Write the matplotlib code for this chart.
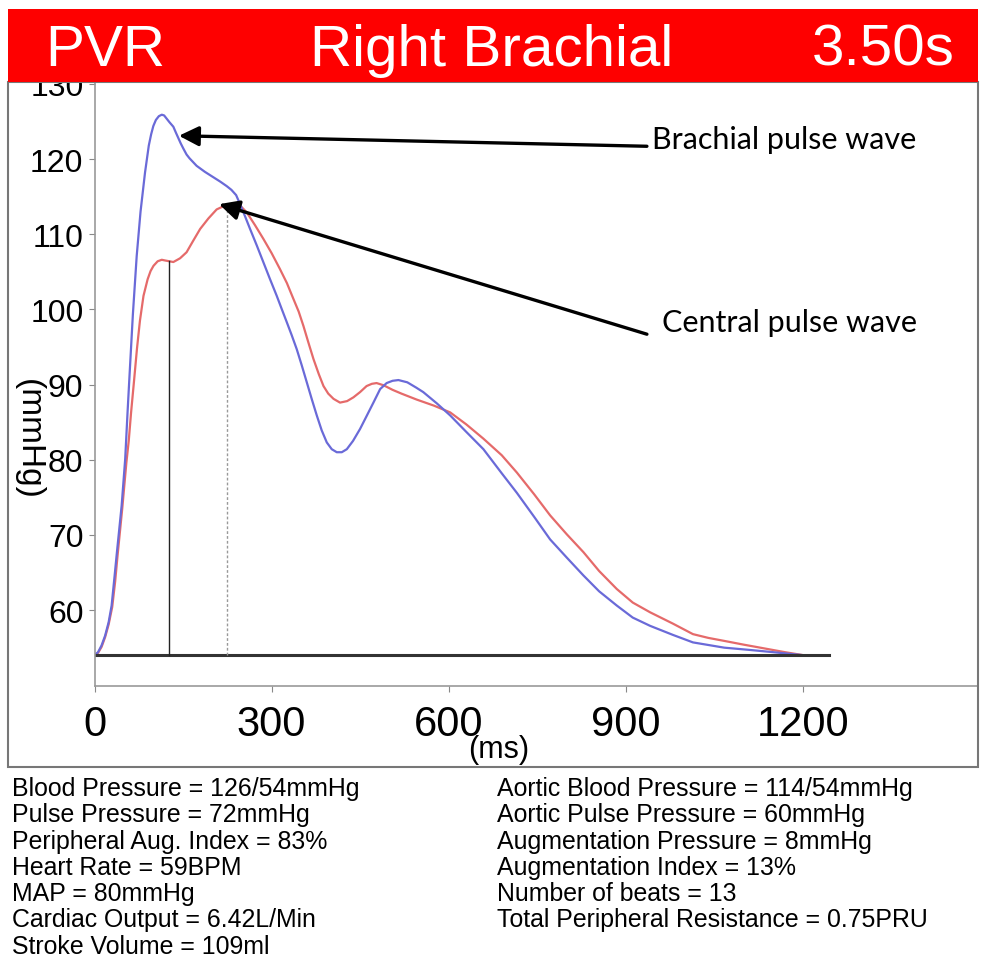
import matplotlib
matplotlib.use("Agg")
import matplotlib.pyplot as plt
from matplotlib.patches import Rectangle

# Brachial (blue) pulse wave: time (ms) / pressure (mmHg)
brachial_ms = [0, 6, 12, 18, 24, 29, 34, 38, 46, 52, 56, 59, 65, 71.5, 78, 85.6, 92, 96, 99.7,
               104, 109, 114, 118, 122, 127, 133.6, 138, 142, 146, 150.5, 156, 161, 167, 173,
               187, 201, 213, 224, 232, 240, 246.6, 255, 263.6, 275, 286, 297, 308.8, 317,
               325.8, 334, 342.7, 351, 359.7, 368, 376.6, 385, 393.6, 402, 410.5, 419, 427.5,
               438, 450, 461, 472.6, 484, 495, 505, 515, 530, 545, 557, 580, 602.6, 630, 659,
               690, 715.6, 745, 772, 800, 828.5, 855, 885, 912, 941.5, 980, 1014, 1067, 1110,
               1150, 1201]
brachial_mmhg = [54.0, 54.4, 55.3, 56.6, 58.4, 60.6, 64.5, 67.7, 73.9, 80.1, 86.3, 90.7, 99.3,
                 107.1, 113.0, 118.2, 121.8, 123.3, 124.4, 125.2, 125.7, 125.9, 125.8, 125.4,
                 124.9, 124.3, 123.5, 122.8, 122.1, 121.4, 120.6, 120.1, 119.6, 119.1, 118.3,
                 117.6, 117.0, 116.4, 115.9, 115.2, 114.0, 112.4, 110.7, 108.5, 106.3, 104.1,
                 101.8, 100.1, 98.3, 96.6, 94.7, 92.6, 90.3, 88.1, 85.9, 83.9, 82.3, 81.4, 81.0,
                 81.0, 81.4, 82.5, 84.1, 85.8, 87.6, 89.4, 90.2, 90.5, 90.6, 90.3, 89.6, 89.0,
                 87.5, 85.9, 83.7, 81.4, 78.2, 75.6, 72.4, 69.4, 67.0, 64.6, 62.5, 60.6, 59.0,
                 57.9, 56.7, 55.7, 55.0, 54.7, 54.4, 54.0]

# Central (red) pulse wave
central_ms = [0, 6, 12, 18, 24, 30, 35, 39, 47, 54, 58, 62, 67, 72, 77, 83, 90, 95, 100, 107,
              114, 120, 127, 133.6, 145, 156, 167, 179, 193, 207, 218, 230, 240, 247, 258, 272,
              286, 300, 314, 326, 337, 346, 354, 362, 371, 380, 388, 396, 405, 416, 428, 438.7,
              450, 461, 470, 478, 490, 505, 520, 546, 575, 602.6, 630, 659, 690, 715.6, 745,
              772, 800, 828.5, 855, 885, 912, 941.5, 980, 1014, 1040, 1067, 1100, 1142, 1170,
              1201]
central_mmhg = [54.0, 54.3, 55.1, 56.4, 58.1, 60.4, 63.8, 67.2, 73.5, 79.6, 82.5, 86.3, 90.5,
                94.8, 98.5, 101.8, 104.0, 105.1, 105.8, 106.4, 106.6, 106.5, 106.4, 106.3,
                106.8, 107.6, 109.1, 110.7, 112.1, 113.3, 113.7, 113.9, 113.9, 113.8, 112.9,
                111.2, 109.4, 107.5, 105.4, 103.5, 101.4, 99.7, 97.8, 95.7, 93.4, 91.4, 89.8,
                88.8, 88.1, 87.6, 87.8, 88.3, 89.0, 89.8, 90.1, 90.2, 89.9, 89.3, 88.8, 88.0,
                87.2, 86.3, 84.7, 82.8, 80.6, 78.3, 75.4, 72.6, 70.1, 67.7, 65.2, 62.8, 61.0,
                59.7, 58.2, 56.8, 56.3, 55.9, 55.4, 54.8, 54.4, 54.0]

baseline_mmhg = 54
baseline_end_ms = 1245
shoulder_ms, shoulder_mmhg = 127, 106.4   # solid marker (central shoulder)
peak_ms, peak_mmhg = 224, 113.9           # dotted marker (central peak)

x_ticks = [0, 300, 600, 900, 1200]
y_ticks = [60, 70, 80, 90, 100, 110, 120, 130]

stats_left = ["Blood Pressure = 126/54mmHg", "Pulse Pressure = 72mmHg",
              "Peripheral Aug. Index = 83%", "Heart Rate = 59BPM", "MAP = 80mmHg",
              "Cardiac Output = 6.42L/Min", "Stroke Volume = 109ml"]
stats_right = ["Aortic Blood Pressure = 114/54mmHg", "Aortic Pulse Pressure = 60mmHg",
               "Augmentation Pressure = 8mmHg", "Augmentation Index = 13%",
               "Number of beats = 13", "Total Peripheral Resistance = 0.75PRU"]

plt.rcParams['font.family'] = ['Liberation Sans', 'DejaVu Sans']

W, H = 986, 962
fig = plt.figure(figsize=(W / 100, H / 100), dpi=100)
fig.patch.set_facecolor('white')

ax = fig.add_axes([94.5 / W, 275 / H, (978 - 94.5) / W, 604 / H])
ax.plot(central_ms, central_mmhg, color='#e56a6a', lw=1.6)
ax.plot(brachial_ms, brachial_mmhg, color='#6a6ad8', lw=1.6)
ax.plot([0, baseline_end_ms], [baseline_mmhg, baseline_mmhg], color='#333333', lw=2.2)
ax.plot([shoulder_ms, shoulder_ms], [baseline_mmhg, shoulder_mmhg], color='#222222', lw=1.0)
ax.plot([peak_ms, peak_ms], [baseline_mmhg, peak_mmhg], color='#999999', lw=1.0,
        linestyle=(0, (2, 1.5)))

ax.set_xlim(0, 1497)
ax.set_ylim(49.9, 130.25)
ax.set_xticks(x_ticks)
ax.set_yticks(y_ticks)
ax.tick_params(axis='x', labelsize=30, length=4, color='#888888', pad=9)
ax.tick_params(axis='y', labelsize=23, length=4, color='#888888', pad=4)
for s in ['top', 'right']:
    ax.spines[s].set_visible(False)
for s in ['left', 'bottom']:
    ax.spines[s].set_color('#999999')
    ax.spines[s].set_linewidth(1.2)

ax.set_xlabel('(ms)', fontsize=22)
ax.xaxis.set_label_coords((499 - 94.5) / 883.5, (687 - 735) / 604)
ax.text(-0.075, 0.41, '(mmHg)', transform=ax.transAxes, rotation=270, fontsize=24,
        ha='center', va='center')

# annotation arrows
arrow = dict(arrowstyle='-|>,head_length=0.6,head_width=0.3', color='black', lw=2.4,
             mutation_scale=20, shrinkA=0, shrinkB=0)
ax.annotate('', xy=(143, 123.1), xytext=(936, 121.7), arrowprops=arrow)
ax.annotate('', xy=(211, 114.0), xytext=(936, 96.7), arrowprops=arrow)
fig.text(652 / W, 1 - 140 / H, 'Brachial pulse wave', fontsize=22, family=['Lato', 'DejaVu Sans'],
         va='center')
fig.text(662 / W, 1 - 323 / H, 'Central pulse wave', fontsize=22, family=['Lato', 'DejaVu Sans'],
         va='center')

# outer frame and red header
fig.patches.append(Rectangle((8 / W, 1 - 768 / H), 970 / W, (768 - 83) / H, transform=fig.transFigure,
                             fill=False, edgecolor='#777777', lw=1.5, zorder=4))
fig.patches.append(Rectangle((8 / W, 1 - 83 / H), 970 / W, 73 / H, transform=fig.transFigure,
                             facecolor='#fe0000', edgecolor='none', zorder=5))
hy = 1 - 51 / H
fig.text(45 / W, hy, 'PVR', color='white', fontsize=42, va='center', ha='left', zorder=6)
fig.text(492 / W, hy, 'Right Brachial', color='white', fontsize=42, va='center', ha='center', zorder=6)
fig.text(955 / W, hy, '3.50s', color='white', fontsize=42, va='center', ha='right', zorder=6)

# summary values below the chart
for i, t in enumerate(stats_left):
    fig.text(12 / W, 1 - (789 + 26.3 * i) / H, t, fontsize=17.9, va='center')
for i, t in enumerate(stats_right):
    fig.text(497 / W, 1 - (789 + 26.3 * i) / H, t, fontsize=17.9, va='center')

fig.savefig('out.png', dpi=100)
